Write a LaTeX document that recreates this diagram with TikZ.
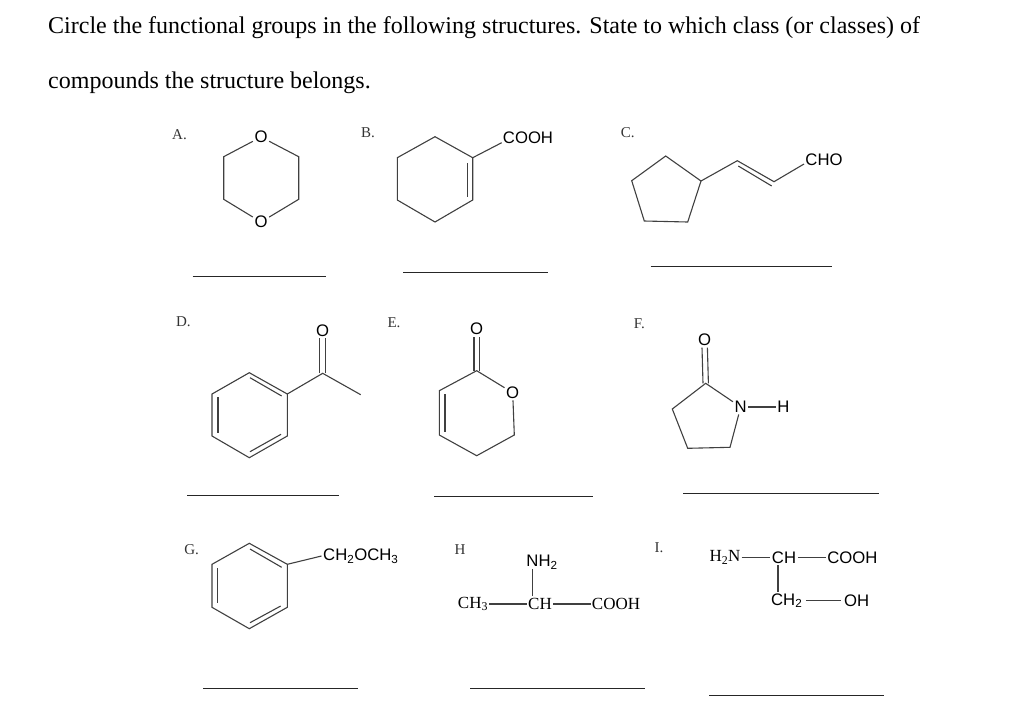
\documentclass[tikz,border=0pt]{standalone}
\usepackage{fontspec}
\setmainfont{Liberation Serif}
\setsansfont{Liberation Sans}
\tikzset{
  bond/.style={draw=black!75,line width=1.1pt},
  rule/.style={draw=black!85,line width=1.2pt},
  atom/.style={font=\sffamily\fontsize{16.7}{17}\selectfont,inner sep=1.5pt},
  seratom/.style={font=\rmfamily\fontsize{17}{17}\selectfont,inner sep=1pt},
  tag/.style={font=\rmfamily\fontsize{15}{15}\selectfont,text=black!80,inner sep=0pt},
  head/.style={font=\rmfamily\fontsize{24}{24}\selectfont,anchor=base west,inner sep=0pt}
}
\begin{document}
\begin{tikzpicture}[x=1pt,y=-1pt]
\useasboundingbox (0,0) rectangle (1036,705);
\node[head] (line1) at (48,33) {Circle the functional groups in the following structures. State to which class (or classes) of};
\node[head] (line2) at (48,88) {compounds the structure belongs.};

\node[tag] (tagA) at (179.5,135) {A.};
\node[atom] (aO1) at (261,137) {O};
\node[atom] (aO2) at (261,222) {O};
\coordinate (a1) at (298.7,156.7);
\coordinate (a2) at (298.7,199.3);
\coordinate (a3) at (223.7,199.3);
\coordinate (a4) at (223.7,156.7);
\draw[bond] (aO1) -- (a1) -- (a2) -- (aO2) -- (a3) -- (a4) -- (aO1);
\coordinate (ruleA1) at (192.7,276.7);
\coordinate (ruleA2) at (326,276.7);
\draw[rule] (ruleA1) -- (ruleA2);

\node[tag] (tagB) at (368,133) {B.};
\node[atom] (bCOOH) at (528,138) {COOH};
\coordinate (b1) at (435,136.7);
\coordinate (b2) at (472.7,157.7);
\coordinate (b3) at (472.7,200);
\coordinate (b4) at (435,222);
\coordinate (b5) at (397.3,200);
\coordinate (b6) at (397.3,157.7);
\coordinate (b7) at (467.7,163.3);
\coordinate (b8) at (467.7,197);
\coordinate (b9) at (501.7,142.7);
\draw[bond] (b1) -- (b2) -- (b3) -- (b4) -- (b5) -- (b6) -- cycle;
\draw[bond] (b7) -- (b8);
\draw[bond] (b2) -- (b9);
\coordinate (ruleB1) at (403,272.7);
\coordinate (ruleB2) at (547.7,272.7);
\draw[rule] (ruleB1) -- (ruleB2);

\node[tag] (tagC) at (627.7,133) {C.};
\node[atom] (cCHO) at (824,160) {CHO};
\coordinate (c1) at (665.7,156);
\coordinate (c2) at (701,181);
\coordinate (c3) at (687.7,222);
\coordinate (c4) at (644.3,221);
\coordinate (c5) at (631.7,180.7);
\coordinate (c6) at (737.3,160.7);
\coordinate (c7) at (774,181.7);
\coordinate (c8) at (738.3,166);
\coordinate (c9) at (771.7,186);
\coordinate (c10) at (804,164);
\draw[bond] (c1) -- (c2) -- (c3) -- (c4) -- (c5) -- cycle;
\draw[bond] (c2) -- (c6) -- (c7) -- (c10);
\draw[bond] (c8) -- (c9);
\coordinate (ruleC1) at (650.7,266.7);
\coordinate (ruleC2) at (831.7,266.7);
\draw[rule] (ruleC1) -- (ruleC2);

\node[tag] (tagD) at (183.3,321.7) {D.};
\node[atom] (dO) at (322.7,330.7) {O};
\coordinate (d1) at (249.3,372.7);
\coordinate (d2) at (287.3,394);
\coordinate (d3) at (287.3,436);
\coordinate (d4) at (249.3,457.7);
\coordinate (d5) at (212,436);
\coordinate (d6) at (212,394);
\coordinate (d7) at (322.7,373.3);
\coordinate (d8) at (360.7,394.7);
\coordinate (d9) at (250,377.7);
\coordinate (d10) at (281.7,396);
\coordinate (d11) at (218,397.3);
\coordinate (d12) at (218,432.7);
\coordinate (d13) at (250,451.7);
\coordinate (d14) at (281,434.3);
\draw[bond] (d1) -- (d2) -- (d3) -- (d4) -- (d5) -- (d6) -- cycle;
\draw[bond] (d9) -- (d10);
\draw[bond] (d11) -- (d12);
\draw[bond] (d13) -- (d14);
\draw[bond] (d2) -- (d7) -- (d8);
\draw[bond] ([xshift=-2.8pt]d7) -- ([xshift=-2.8pt]dO.south);
\draw[bond] ([xshift=2.8pt]d7) -- ([xshift=2.8pt]dO.south);
\coordinate (ruleD1) at (187.3,495.7);
\coordinate (ruleD2) at (338.7,495.7);
\draw[rule] (ruleD1) -- (ruleD2);

\node[tag] (tagE) at (394,322.7) {E.};
\node[atom] (eO1) at (476.7,329) {O};
\node[atom] (eO2) at (512.7,392.7) {O};
\coordinate (e1) at (476.7,370.7);
\coordinate (e2) at (439.3,390.7);
\coordinate (e3) at (439.3,435);
\coordinate (e4) at (476.7,455.7);
\coordinate (e5) at (514.3,435);
\coordinate (e6) at (445,394.3);
\coordinate (e7) at (445,431.7);
\draw[bond] (eO2) -- (e1) -- (e2) -- (e3) -- (e4) -- (e5) -- (eO2);
\draw[bond] (e6) -- (e7);
\draw[bond] ([xshift=-2.7pt]e1) -- ([xshift=-2.7pt]eO1.south);
\draw[bond] ([xshift=2.7pt]e1) -- ([xshift=2.7pt]eO1.south);
\coordinate (ruleE1) at (434,496.7);
\coordinate (ruleE2) at (592.7,496.7);
\draw[rule] (ruleE1) -- (ruleE2);

\node[tag] (tagF) at (639.3,324) {F.};
\node[atom] (fO) at (704.7,340) {O};
\node[atom] (fN) at (740.7,407) {N};
\node[atom] (fH) at (783.3,407) {H};
\coordinate (f1) at (705.7,383.3);
\coordinate (f2) at (672.3,409);
\coordinate (f3) at (687.7,448.3);
\coordinate (f4) at (730,447.3);
\draw[bond] (fN) -- (f1) -- (f2) -- (f3) -- (f4) -- (fN);
\draw[bond] (fN) -- (fH);
\draw[bond] ([xshift=-2.7pt]f1) -- ([xshift=-2.7pt]fO.south);
\draw[bond] ([xshift=2.7pt]f1) -- ([xshift=2.7pt]fO.south);
\coordinate (ruleF1) at (683.3,493.3);
\coordinate (ruleF2) at (878.7,493.3);
\draw[rule] (ruleF1) -- (ruleF2);

\node[tag] (tagG) at (191.7,549.3) {G.};
\node[atom,anchor=west] (gCH) at (321.5,556) {CH\textsubscript{2}OCH\textsubscript{3}};
\coordinate (g1) at (249.3,543.3);
\coordinate (g2) at (287.3,564.3);
\coordinate (g3) at (287.3,607.3);
\coordinate (g4) at (249.3,628.7);
\coordinate (g5) at (212,607.3);
\coordinate (g6) at (212,564.3);
\coordinate (g7) at (250,549);
\coordinate (g8) at (281.7,567.3);
\coordinate (g9) at (217.7,568.3);
\coordinate (g10) at (217.7,603.3);
\coordinate (g11) at (250,622.7);
\coordinate (g12) at (280.7,606);
\draw[bond] (g1) -- (g2) -- (g3) -- (g4) -- (g5) -- (g6) -- cycle;
\draw[bond] (g7) -- (g8);
\draw[bond] (g9) -- (g10);
\draw[bond] (g11) -- (g12);
\draw[bond] (g2) -- (gCH.west);
\coordinate (ruleG1) at (203.3,688.7);
\coordinate (ruleG2) at (357.7,688.7);
\draw[rule] (ruleG1) -- (ruleG2);

\node[tag] (tagH) at (460,550) {H};
\node[atom] (hNH) at (542,562.5) {NH\textsubscript{2}};
\node[seratom] (hCH3) at (473,604) {CH\textsubscript{3}};
\node[seratom] (hCH) at (540,604) {CH};
\node[seratom] (hCOOH) at (616,604) {COOH};
\coordinate (h1) at (532.3,569.3);
\coordinate (h2) at (532.3,596);
\draw[bond] (h1) -- (h2);
\draw[bond] (hCH3) -- (hCH);
\draw[bond] (hCH) -- (hCOOH);
\coordinate (ruleH1) at (470,688.7);
\coordinate (ruleH2) at (645,688.7);
\draw[rule] (ruleH1) -- (ruleH2);

\node[tag] (tagI) at (659,547.3) {I.};
\node[seratom] (iHN) at (725,557.5) {H\textsubscript{2}N};
\node[atom] (iCH) at (784,557.5) {CH};
\node[atom] (iCOOH) at (852.3,557.5) {COOH};
\node[atom] (iCH2) at (786.7,600.5) {CH\textsubscript{2}};
\node[atom] (iOH) at (856.7,600.5) {OH};
\coordinate (i1) at (778,565);
\coordinate (i2) at (778,591.7);
\draw[bond] (iHN) -- (iCH);
\draw[bond] (iCH) -- (iCOOH);
\draw[bond] (i1) -- (i2);
\draw[bond,shorten <=2pt,shorten >=1pt] (iCH2) -- (iOH);
\coordinate (ruleI1) at (709.3,695.7);
\coordinate (ruleI2) at (884,695.7);
\draw[rule] (ruleI1) -- (ruleI2);
\end{tikzpicture}
\end{document}
